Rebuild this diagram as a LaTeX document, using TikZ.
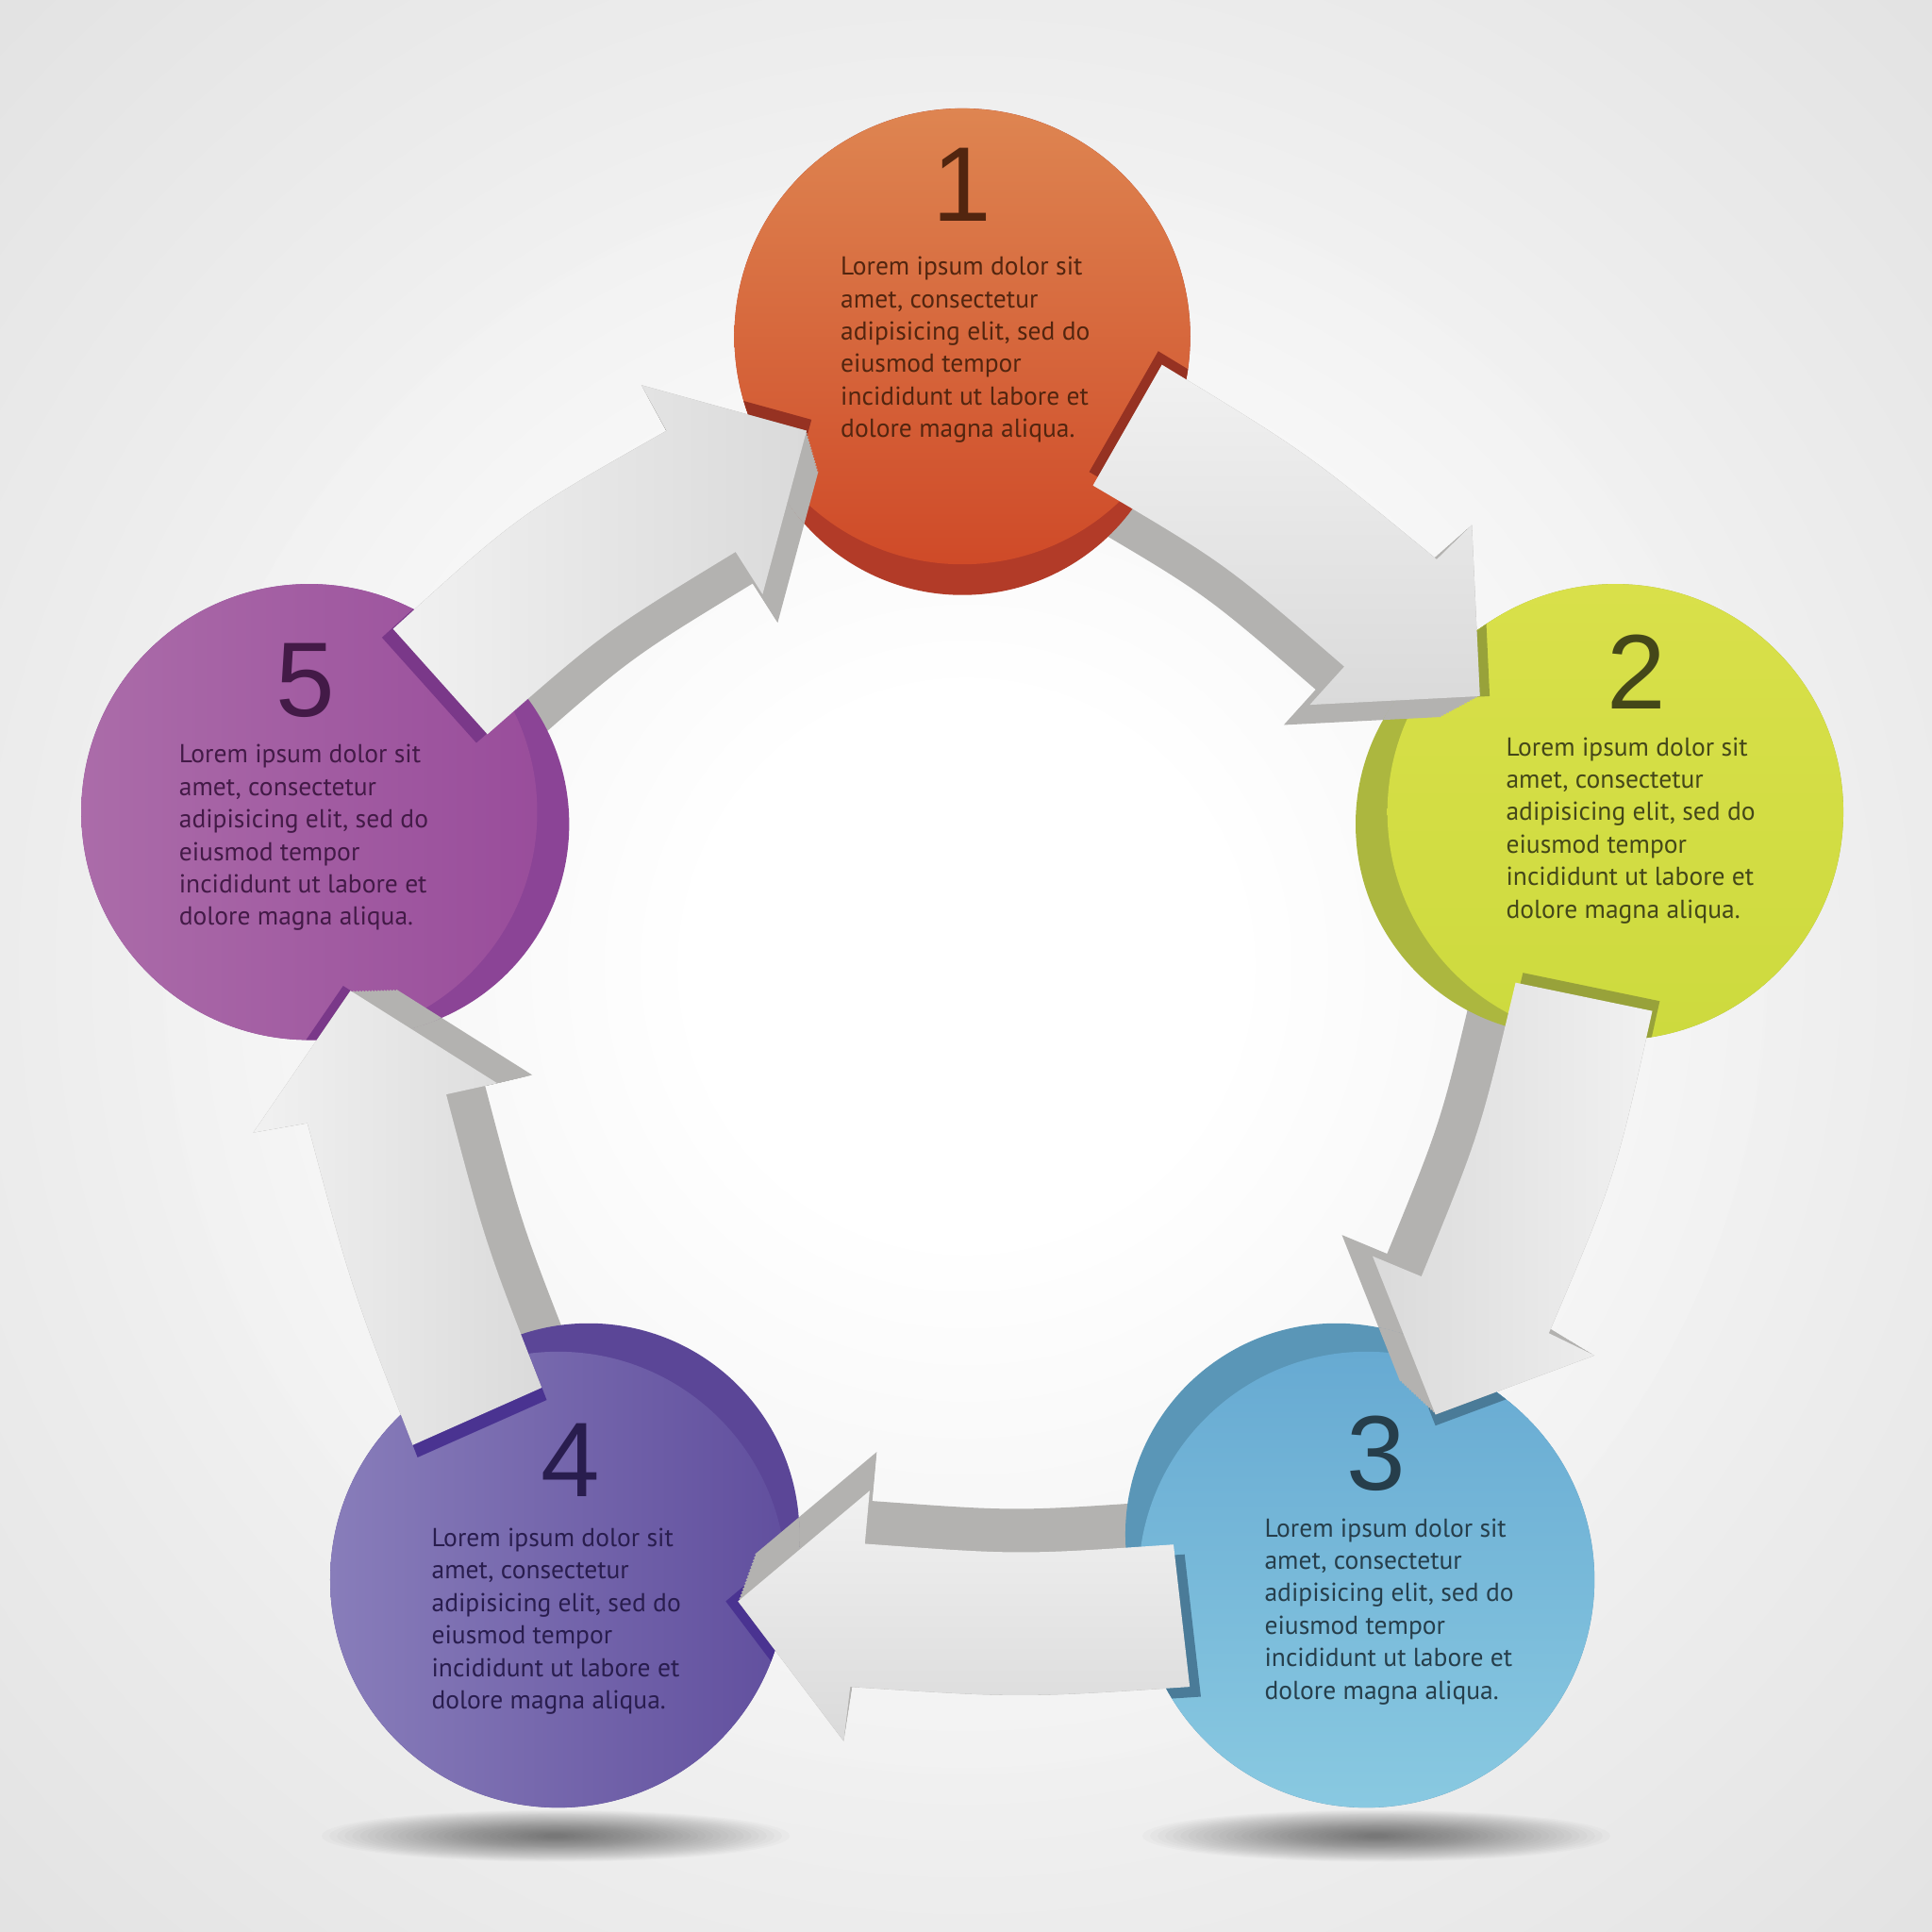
\documentclass[tikz,border=0pt]{standalone}
\usepackage{fontspec}
\setmainfont{PT Sans}
\newfontfamily\numfont{Liberation Sans}
\usetikzlibrary{calc}

\definecolor{bgedge}{HTML}{ECECEC}
\definecolor{bgcorner}{HTML}{E2E2E2}
\definecolor{armgray}{HTML}{B3B2B0}
\definecolor{armlight}{HTML}{F1F1F1}
\definecolor{armdark}{HTML}{DADADA}
% circle 1 (orange)
\definecolor{faceAtop}{HTML}{DE8551}
\definecolor{faceAbot}{HTML}{CF4A28}
\definecolor{sideA}{HTML}{B23B28}
\definecolor{notchA}{HTML}{963222}
\definecolor{txtA}{HTML}{52250F}
% circle 2 (lime)
\definecolor{faceBtop}{HTML}{D9E04A}
\definecolor{faceBbot}{HTML}{CDDA3E}
\definecolor{sideB}{HTML}{ACB73F}
\definecolor{notchB}{HTML}{98A23A}
\definecolor{txtB}{HTML}{444719}
% circle 3 (blue)
\definecolor{faceCtop}{HTML}{67AAD2}
\definecolor{faceCbot}{HTML}{89C9E1}
\definecolor{sideC}{HTML}{5A96B7}
\definecolor{notchC}{HTML}{4A7B98}
\definecolor{txtC}{HTML}{263E4B}
% circle 4 (violet)
\definecolor{faceDl}{HTML}{887DBA}
\definecolor{faceDr}{HTML}{614F9E}
\definecolor{sideD}{HTML}{5B4697}
\definecolor{notchD}{HTML}{4A3391}
\definecolor{txtD}{HTML}{291D4E}
% circle 5 (purple)
\definecolor{faceEl}{HTML}{AB6CA9}
\definecolor{faceEr}{HTML}{994D9B}
\definecolor{sideE}{HTML}{8B4496}
\definecolor{notchE}{HTML}{7A3889}
\definecolor{txtE}{HTML}{431A47}

\pgfdeclareradialshading{backdrop}{\pgfpoint{0bp}{0bp}}{color(0bp)=(white); color(7bp)=(white); color(25bp)=(bgedge); color(36bp)=(bgcorner); color(50bp)=(bgcorner)}

% outlines of the five arrows
\newcommand{\arrowAB}{(943,296) .. controls (1060,367) .. (1166,454) -- (1194.5,426) -- (1201,565) -- (1063,572) -- (1091,541) .. controls (994,457) .. (887,394) -- cycle}
\newcommand{\arrowBC}{(1341,820.5) .. controls (1311,955) .. (1257,1082) -- (1294,1100) -- (1165,1148) -- (1114,1019.5) -- (1153.6,1036) .. controls (1201,920) .. (1230,797.5) -- cycle}
\newcommand{\arrowCD}{(965.6,1369) .. controls (828,1378) .. (690,1369) -- (684.7,1413) -- (599,1299.6) -- (705.8,1209.9) -- (701.9,1252.9) .. controls (827,1262) .. (952.4,1253.5) -- cycle}
\newcommand{\arrowDE}{(334.9,1172.8) .. controls (285,1044.5) .. (249.5,911.5) -- (205.6,919.2) -- (284.5,804.1) -- (403.5,879.1) -- (362.1,888.2) .. controls (394,1009.5) .. (439.7,1126.2) -- cycle}
\newcommand{\arrowEA}{(319,510.4) .. controls (421,417.6) .. (541,349.6) -- (520.6,312.6) -- (654.6,349.6) -- (618.9,482.3) -- (597,447.9) .. controls (490,513) .. (395.6,595.9) -- cycle}

% side walls: copies shrunk towards the middle of the ring
\newcommand{\armsweep}[1]{%
  \foreach \k in {0,...,15}{%
    \pgfmathsetmacro\s{0.925+0.005*\k}%
    \fill[armgray, scale around={\s:(782,790)}] #1;}}
\newcommand{\ballsweep}[3]{%
  \foreach \k in {0,...,12}{%
    \pgfmathsetmacro\s{0.925+0.00625*\k}%
    \fill[#3, scale around={\s:(782,790)}] (#1,#2) circle (185);}}
\newcommand{\ballclip}[2]{\clip (#1,#2) circle (185) ($(782,790)!0.925!(#1,#2)$) circle (171.1);}

\begin{document}
\begin{tikzpicture}[x=0.02cm, y=-0.02cm,
    lorem/.style={anchor=north west, inner sep=0pt, align=left, font=\fontsize{12}{15}\selectfont},
    number/.style={inner sep=0pt, font=\numfont\fontsize{49}{49}\selectfont}]
  \useasboundingbox (0,0) rectangle (1568,1568);

  % Background
  \shade[shading=backdrop] (0,0) rectangle (1568,1568);
  \fill[white, opacity=0.12] (782,790) circle (650);

  % Shadows under circles 3 and 4
  \foreach \sx in {451,1117}
    \foreach \k in {0,...,29}
      \fill[black, opacity=0.02] (\sx,1490) ellipse ({190-6.2*\k} and {21-0.66*\k});

  % Sides of the arrows
  \armsweep{\arrowAB}
  \armsweep{\arrowBC}
  \armsweep{\arrowCD}
  \armsweep{\arrowDE}
  \armsweep{\arrowEA}

  % Circle 1
  \ballsweep{781}{273}{sideA}
  \shade[top color=faceAtop, bottom color=faceAbot] (781,273) circle (185);
  \node[number, text=txtA] (numA) at (781,150) {1};
  \node[lorem, text=txtA] (textA) at (682,208) {Lorem ipsum dolor sit\\amet, consectetur\\adipisicing elit, sed do\\eiusmod tempor\\incididunt ut labore et\\dolore magna aliqua.};

  % Circle 2
  \ballsweep{1311}{659}{sideB}
  \shade[top color=faceBtop, bottom color=faceBbot] (1311,659) circle (185);
  \node[number, text=txtB] (numB) at (1328,545) {2};
  \node[lorem, text=txtB] (textB) at (1222,598) {Lorem ipsum dolor sit\\amet, consectetur\\adipisicing elit, sed do\\eiusmod tempor\\incididunt ut labore et\\dolore magna aliqua.};

  % Circle 3
  \ballsweep{1109}{1282}{sideC}
  \shade[top color=faceCtop, bottom color=faceCbot] (1109,1282) circle (185);
  \node[number, text=txtC] (numC) at (1117,1180) {3};
  \node[lorem, text=txtC] (textC) at (1026,1232) {Lorem ipsum dolor sit\\amet, consectetur\\adipisicing elit, sed do\\eiusmod tempor\\incididunt ut labore et\\dolore magna aliqua.};

  % Circle 4
  \ballsweep{453}{1282}{sideD}
  \shade[left color=faceDl, right color=faceDr] (453,1282) circle (185);
  \node[number, text=txtD] (numD) at (463,1185) {4};
  \node[lorem, text=txtD] (textD) at (350,1240) {Lorem ipsum dolor sit\\amet, consectetur\\adipisicing elit, sed do\\eiusmod tempor\\incididunt ut labore et\\dolore magna aliqua.};

  % Circle 5
  \ballsweep{251}{659}{sideE}
  \shade[left color=faceEl, right color=faceEr] (251,659) circle (185);
  \node[number, text=txtE] (numE) at (248,552) {5};
  \node[lorem, text=txtE] (textE) at (145,604) {Lorem ipsum dolor sit\\amet, consectetur\\adipisicing elit, sed do\\eiusmod tempor\\incididunt ut labore et\\dolore magna aliqua.};

  % Notches where the arrow tails leave the circles
  \begin{scope}
    \ballclip{781}{273}
    \fill[notchA, shift={(-3,-11)}] \arrowAB;
  \end{scope}
  \begin{scope}
    \ballclip{1311}{659}
    \fill[notchB, shift={(6,-8)}] \arrowBC;
  \end{scope}
  \begin{scope}
    \ballclip{1109}{1282}
    \fill[notchC, shift={(9,8)}] \arrowCD;
  \end{scope}
  \begin{scope}
    \ballclip{453}{1282}
    \fill[notchD, shift={(4,10)}] \arrowDE;
  \end{scope}
  \begin{scope}
    \ballclip{251}{659}
    \fill[notchE, shift={(-9,7)}] \arrowEA;
  \end{scope}

  % Notches where the arrow heads go in
  \begin{scope}
    \ballclip{1311}{659}
    \fill[notchB, shift={(8,0)}] \arrowAB;
    \armsweep{\arrowAB}
  \end{scope}
  \begin{scope}
    \ballclip{1109}{1282}
    \fill[notchC, shift={(0,9)}] \arrowBC;
    \armsweep{\arrowBC}
  \end{scope}
  \begin{scope}
    \ballclip{453}{1282}
    \fill[notchD, shift={(-10,0)}] \arrowCD;
    \armsweep{\arrowCD}
  \end{scope}
  \begin{scope}
    \ballclip{251}{659}
    \fill[notchE, shift={(-6,-4)}] \arrowDE;
    \armsweep{\arrowDE}
  \end{scope}
  \begin{scope}
    \ballclip{781}{273}
    \fill[notchA, shift={(4,-9)}] \arrowEA;
    \armsweep{\arrowEA}
  \end{scope}

  % Tops of the arrows
  \shade[top color=armlight, bottom color=armdark] \arrowAB;
  \shade[left color=armdark, right color=armlight] \arrowBC;
  \shade[top color=armlight, bottom color=armdark] \arrowCD;
  \shade[left color=armlight, right color=armdark] \arrowDE;
  \shade[left color=armlight, right color=armdark] \arrowEA;
\end{tikzpicture}
\end{document}
